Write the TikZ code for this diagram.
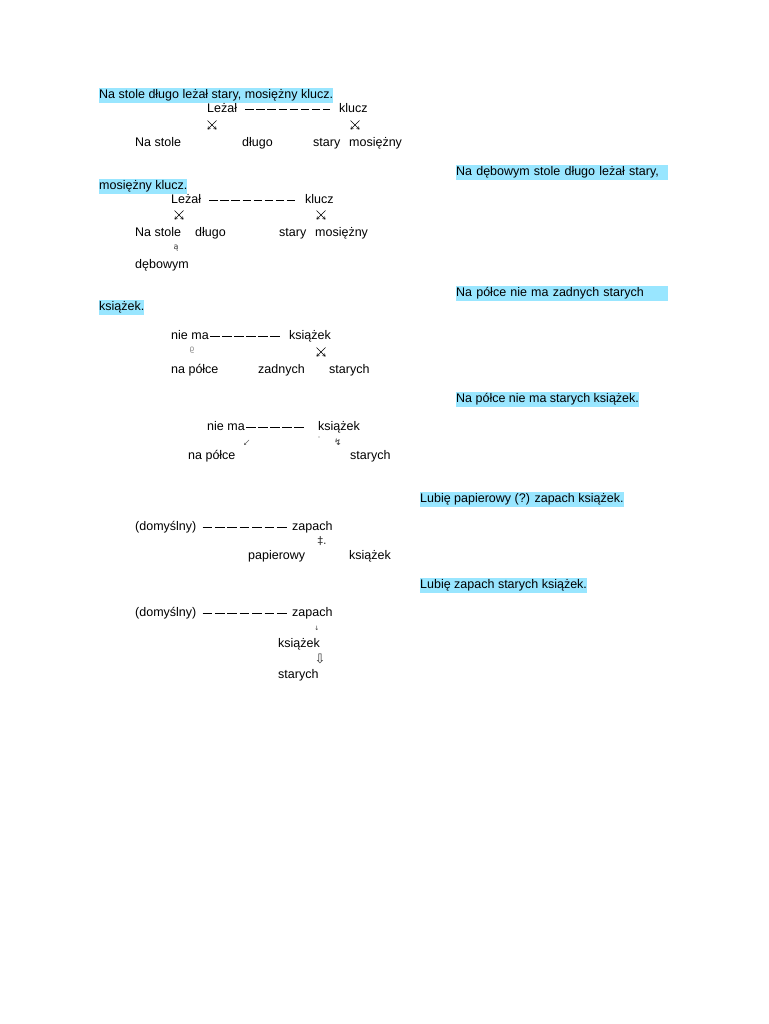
\documentclass[tikz,border=0pt]{standalone}
\usepackage{fontspec}
\setmainfont{Liberation Sans}
\newfontfamily\symfont{DejaVu Sans}
\usetikzlibrary{arrows.meta}
\definecolor{hlcol}{RGB}{153,230,255}
\tikzset{
  txt/.style={anchor=west,inner sep=0pt,text height=9pt,text depth=2.6pt,yshift=-1.5pt,font=\fontsize{12.5}{14}\selectfont},
  hl/.style={txt,fill=hlcol,text height=10.5pt,text depth=4pt},
  dashline/.style={draw,line width=0.8pt,dash pattern=on 8.5pt off 2.6pt},
  longdash/.style={draw,line width=0.8pt,dash pattern=on 9.6pt off 2.8pt},
  emdash/.style={draw,line width=0.8pt,dash pattern=on 10pt off 2pt},
  xarr/.pic={
    \draw[line width=0.6pt,-{Straight Barb[length=2.2pt,width=3pt]}] (4.5,-4.5) -- (-4.5,4.5);
    \draw[line width=0.6pt,-{Straight Barb[length=2.2pt,width=3pt]}] (-4.5,-4.5) -- (4.5,4.5);
  },
  glyph/.style={inner sep=0pt,font=\symfont\fontsize{8}{9}\selectfont,text=black!80}
}
\begin{document}
\begin{tikzpicture}[x=1pt,y=-1pt]
\useasboundingbox (0,0) rectangle (768,1024);
\fill[white] (0,0) rectangle (768,1024);

% ---- Block 1
\node[hl] (h1) at (99,94) {Na stole długo leżał stary, mosiężny klucz.};
\node[txt] (a1) at (207,108) {Leżał};
\node[txt] (a2) at (339,108) {klucz};
\draw[dashline] ([xshift=8pt]a1.east) -- ([xshift=-9pt]a2.west);
\pic at (212,125) {xarr};
\pic at (355,125) {xarr};
\node[txt] (a3) at (135,142) {Na stole};
\node[txt] (a4) at (242,142) {długo};
\node[txt] (a5) at (313,142) {stary};
\node[txt] (a6) at (349,142) {mosiężny};

% ---- Block 2
\node[hl,text width=212pt,align=left] (h2) at (456,171) {Na dębowym stole długo leżał stary,};
\node[hl] (h2b) at (99,185) {mosiężny klucz.};
\node[txt] (b1) at (171,199) {Leżał};
\node[txt] (b2) at (305,199) {klucz};
\draw[dashline] ([xshift=8pt]b1.east) -- ([xshift=-8.5pt]b2.west);
\pic at (179,215) {xarr};
\pic at (321,215) {xarr};
\node[txt] (b3) at (135,232) {Na stole};
\node[txt] (b4) at (195,232) {długo};
\node[txt] (b5) at (279,232) {stary};
\node[txt] (b6) at (315,232) {mosiężny};
\node[glyph] (g2) at (176,248) {ą};
\node[txt] (b7) at (135,264) {dębowym};

% ---- Block 3
\node[hl,text width=212pt,align=left] (h3) at (456,292) {Na półce nie ma zadnych starych};
\node[hl] (h3b) at (99,306) {książek.};
\node[txt] (c1) at (171,335) {nie ma};
\node[txt] (c2) at (289,335) {książek};
\draw[emdash] ([xshift=1pt]c1.east) -- ([xshift=-7.5pt]c2.west);
\node[glyph,text=black!45] (g3) at (192,350) {ϱ};
\pic at (321,352) {xarr};
\node[txt] (c3) at (171,369) {na półce};
\node[txt] (c4) at (258,369) {zadnych};
\node[txt] (c5) at (329,369) {starych};

% ---- Block 4
\node[hl] (h4) at (456,398) {Na półce nie ma starych książek.};
\node[txt] (d1) at (207,426) {nie ma};
\node[txt] (d2) at (318,426) {książek};
\draw[emdash] ([xshift=1pt]d1.east) -- ([xshift=-13pt]d2.west);
\draw[line width=0.6pt,black!60,-{Straight Barb[length=1.5pt,width=2pt]}] (249,440) -- (244,445);
\fill[black!60] (319,437) circle (0.6pt);
\node[glyph,font=\symfont\fontsize{9}{10}\selectfont] (g4) at (338,442) {↯};
\node[txt] (d3) at (188,455) {na półce};
\node[txt] (d4) at (350,455) {starych};

% ---- Block 5
\node[hl] (h5) at (420,498) {Lubię papierowy (?) zapach książek.};
\node[txt] (e1) at (135,526) {(domyślny)};
\node[txt] (e2) at (292,526) {zapach};
\draw[longdash] ([xshift=6pt]e1.east) -- ([xshift=-5pt]e2.west);
\node[glyph,font=\symfont\fontsize{11}{12}\selectfont] (g5) at (322,541) {‡.};
\node[txt] (e3) at (248,555) {papierowy};
\node[txt] (e4) at (349,555) {książek};

% ---- Block 6
\node[hl] (h6) at (420,584) {Lubię zapach starych książek.};
\node[txt] (f1) at (135,612) {(domyślny)};
\node[txt] (f2) at (292,612) {zapach};
\draw[longdash] ([xshift=6pt]f1.east) -- ([xshift=-5pt]f2.west);
\node[glyph,font=\symfont\fontsize{6}{7}\selectfont] (g6) at (317,628) {↓};
\node[txt] (f3) at (278,643) {książek};
\node[glyph,font=\symfont\fontsize{13}{14}\selectfont] (g7) at (320,659) {⇩};
\node[txt] (f4) at (278,674) {starych};
\end{tikzpicture}
\end{document}
